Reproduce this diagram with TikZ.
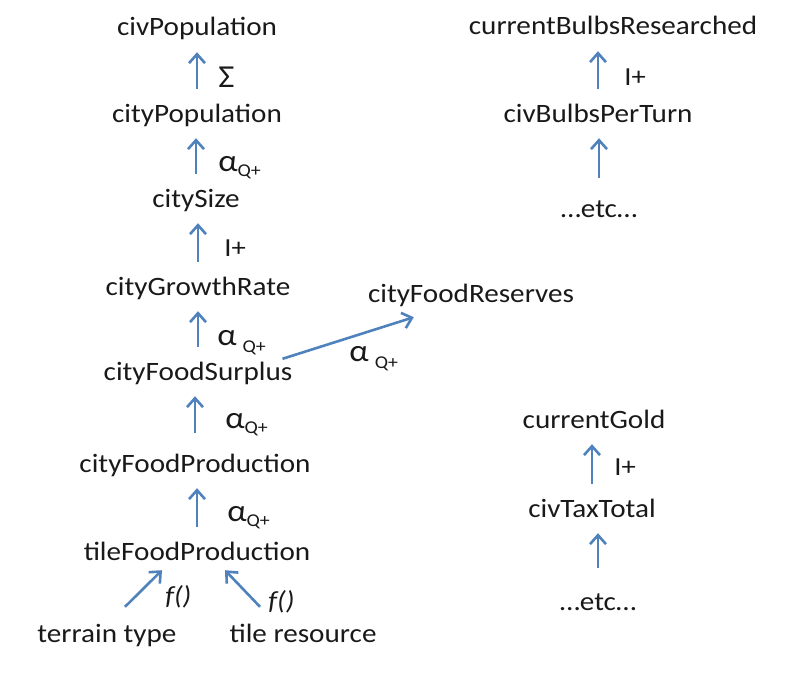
\documentclass[tikz,border=0pt]{standalone}
\usepackage{fontspec}
\setmainfont{Carlito}[FakeStretch=1.1]
\usetikzlibrary{arrows.meta,positioning}
\definecolor{flowblue}{RGB}{79,129,189}
\definecolor{txtgray}{RGB}{25,25,25}
\newcommand{\varfont}{\fontsize{26.5}{30}\selectfont}
\newcommand{\lblfont}{\fontsize{26}{28}\selectfont}
\newcommand{\alphaq}{{\fontsize{31}{31}\selectfont α}\raisebox{-5pt}{\fontsize{18}{18}\selectfont Q+}}
\newcommand{\alphaqs}{{\fontsize{31}{31}\selectfont α}\hspace{6pt}\raisebox{-7pt}{\fontsize{18}{18}\selectfont Q+}}
\tikzset{
    var/.style={anchor=base, inner sep=0pt, text height=19pt, text depth=6pt, font=\varfont, text=txtgray},
    flow/.style={draw=flowblue, line width=2.6pt, -{Straight Barb[length=9pt,width=16pt]}, shorten <=14pt, shorten >=10pt},
    lbl/.style={anchor=west, inner sep=0pt, font=\lblfont, text=txtgray},
}
\begin{document}
\begin{tikzpicture}[x=1pt, y=-1pt]
    \useasboundingbox (0,0) rectangle (804,677);

    % left chain
    \node[var] (civPop) at (197,36) {civPopulation};
    \node[var] (cityPop) at (197,122) {cityPopulation};
    \node[var] (citySize) at (196,207) {citySize};
    \node[var] (cityGrowth) at (198,295) {cityGrowthRate};
    \node[var] (foodSurplus) at (198,380) {cityFoodSurplus};
    \node[var] (foodProd) at (195,472) {cityFoodProduction};
    \node[var] (tileFood) at (197,560) {tileFoodProduction};
    \node[var] (terrain) at (107,642) {terrain type};
    \node[var] (tileRes) at (303,642) {tile resource};
    \node[var] (foodRes) at (471,302) {cityFoodReserves};

    % right chains
    \node[var] (bulbsRes) at (613,35) {currentBulbsResearched};
    \node[var] (bulbsTurn) at (598,122) {civBulbsPerTurn};
    \node[var] (etcA) at (599,217) {…etc…};
    \node[var] (gold) at (594,428) {currentGold};
    \node[var] (taxTotal) at (592,517) {civTaxTotal};
    \node[var] (etcB) at (598,610) {…etc…};

    \draw[flow] (cityPop.north) -- (cityPop.north |- civPop.south)
        node[lbl, pos=0.42, xshift=20pt, font=\fontsize{32}{32}\selectfont] {Σ};
    \draw[flow] (citySize.north) -- (citySize.north |- cityPop.south)
        node[lbl, pos=0.33, xshift=21pt] {\alphaq};
    \draw[flow] (cityGrowth.north) -- (cityGrowth.north |- citySize.south)
        node[lbl, pos=0.44, xshift=25pt] {I+};
    \draw[flow] (foodSurplus.north) -- (foodSurplus.north |- cityGrowth.south)
        node[lbl, pos=0.3, xshift=18pt] {\alphaqs};
    \draw[flow, shorten <=20pt] (foodProd.north) -- (foodProd.north |- foodSurplus.south)
        node[lbl, pos=0.42, xshift=29pt] {\alphaq};
    \draw[flow] (tileFood.north) -- (tileFood.north |- foodProd.south)
        node[lbl, pos=0.37, xshift=29pt] {\alphaq};

    \draw[flow, shorten <=0pt, shorten >=0pt] ([shift={(-10pt,2pt)}]foodSurplus.north east) -- ([shift={(46pt,-9pt)}]foodRes.south west)
        node[lbl, anchor=north west, pos=0.5, yshift=-7pt] {\alphaqs};

    \draw[flow, shorten <=0pt, shorten >=0pt] ([shift={(18pt,16pt)}]terrain.north) -- ([shift={(-35pt,-4pt)}]tileFood.south)
        node[lbl, pos=0.27, xshift=29pt] {\textit{f()}};
    \draw[flow, shorten <=0pt, shorten >=0pt] ([shift={(-43pt,16pt)}]tileRes.north) -- ([shift={(28pt,-4pt)}]tileFood.south)
        node[lbl, pos=0.14, xshift=12pt] {\textit{f()}};

    \draw[flow] (bulbsTurn.north) -- (bulbsTurn.north |- bulbsRes.south)
        node[lbl, pos=0.42, xshift=25pt] {I+};
    \draw[flow, shorten <=20pt] (etcA.north) -- (etcA.north |- bulbsTurn.south);
    \draw[flow] (taxTotal.north) -- (taxTotal.north |- gold.south)
        node[lbl, pos=0.48, xshift=21pt] {I+};
    \draw[flow, shorten <=23pt] (etcB.north) -- (etcB.north |- taxTotal.south);
\end{tikzpicture}
\end{document}
